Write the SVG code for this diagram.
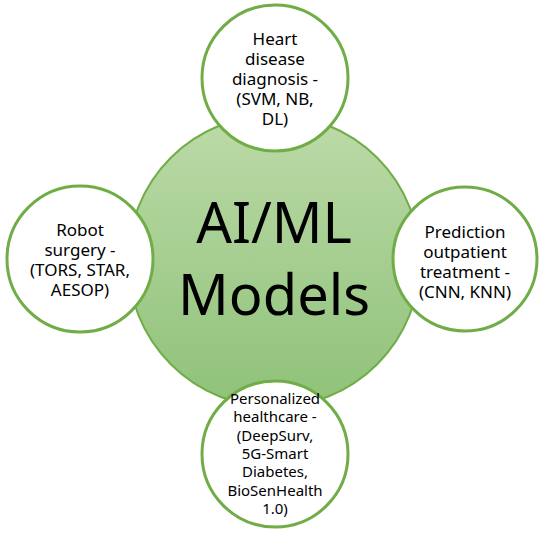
<svg xmlns="http://www.w3.org/2000/svg" width="550" height="535" viewBox="0 0 550 535">
<style>
.sat{fill:#ffffff;stroke:#70ad47;stroke-width:3}
.hub{stroke:#70ad47;stroke-width:2}
.t{font-family:"Noto Sans","Open Sans",sans-serif;font-size:17px;fill:#000;text-anchor:middle}
.s{font-size:15px}
.big{font-family:"Noto Sans","Open Sans",sans-serif;font-size:56px;fill:#000;text-anchor:middle}
</style>
<defs>
<linearGradient id="g" x1="0" y1="0" x2="0" y2="1">
<stop offset="0" stop-color="#bcdaa8"/>
<stop offset="1" stop-color="#8fc279"/>
</linearGradient>
</defs>
<rect width="550" height="535" fill="#ffffff"/>
<g id="connectors"></g>
<g id="hub">
<circle class="hub" cx="274" cy="261" r="146" fill="url(#g)"/>
<text class="big" x="274" y="243">AI/ML<tspan x="274" dy="72">Models</tspan></text>
</g>
<g id="heart">
<circle class="sat" cx="275" cy="78" r="73"/>
<text class="t" x="275" y="45">Heart<tspan x="275" dy="20">disease</tspan><tspan x="275" dy="20">diagnosis -</tspan><tspan x="275" dy="20">(SVM, NB,</tspan><tspan x="275" dy="20">DL)</tspan></text>
</g>
<g id="robot">
<circle class="sat" cx="80" cy="259" r="73"/>
<text class="t" x="80" y="236">Robot<tspan x="80" dy="20">surgery -</tspan><tspan x="80" dy="20">(TORS, STAR,</tspan><tspan x="80" dy="20">AESOP)</tspan></text>
</g>
<g id="prediction">
<circle class="sat" cx="465" cy="259" r="72"/>
<text class="t" x="465" y="238">Prediction<tspan x="465" dy="20">outpatient</tspan><tspan x="465" dy="20">treatment -</tspan><tspan x="465" dy="20">(CNN, KNN)</tspan></text>
</g>
<g id="personalized">
<circle class="sat" cx="275" cy="454" r="73"/>
<text class="t s" x="275" y="404">Personalized<tspan x="275" dy="18.3">healthcare -</tspan><tspan x="275" dy="18.3">(DeepSurv,</tspan><tspan x="275" dy="18.3">5G-Smart</tspan><tspan x="275" dy="18.3">Diabetes,</tspan><tspan x="275" dy="18.3">BioSenHealth</tspan><tspan x="275" dy="18.3">1.0)</tspan></text>
</g>
</svg>
